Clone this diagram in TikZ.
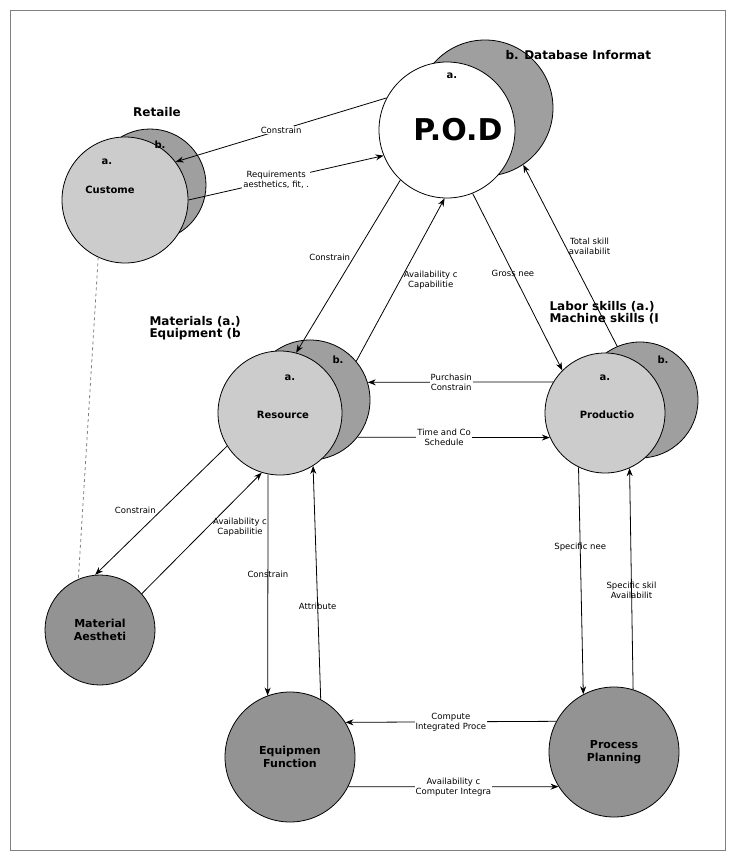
\documentclass[tikz,border=0pt]{standalone}
\usepackage{fontspec}
\setmainfont{DejaVu Sans}
\usetikzlibrary{arrows.meta}
\begin{document}
\begin{tikzpicture}[x=1pt,y=-1pt,
  circ/.style={circle,draw=black,line width=0.8pt,inner sep=0pt},
  front/.style={circ,fill=gray!40},
  back/.style={circ,fill=gray!75},
  darkc/.style={circ,fill=gray!85,font=\bfseries\fontsize{11}{13}\selectfont,align=center},
  arr/.style={-{Stealth[length=8pt,width=6pt]},line width=0.8pt},
  lab/.style={font=\fontsize{8.5}{10}\selectfont,align=center,fill=white,inner sep=1pt},
  head/.style={font=\bfseries\fontsize{12}{14}\selectfont,align=left},
  sm/.style={font=\bfseries\fontsize{10}{12}\selectfont}]
\useasboundingbox (0,0) rectangle (732,860);
\draw[gray,line width=0.8pt] (10,10) rectangle (725,850);
% POD
\node[back,minimum size=136pt] (podb) at (485,108) {};
\node[circ,fill=white,minimum size=136pt] (pod) at (447,130) {};
\node[font=\bfseries\fontsize{30}{32}\selectfont] (podt) at (458,130) {P.O.D};
\node[sm] (poda) at (452,76) {a.};
\node[head,anchor=west] (dbi) at (502,55) {b. Database Informat};
% Customer
\node[back,minimum size=112pt] (custb) at (150,185) {};
\node[front,minimum size=126pt] (cust) at (125,200) {};
\node[sm] (custa) at (107,162) {a.};
\node[sm] (custbb) at (160,145) {b.};
\node[sm] (custt) at (110,190) {Custome};
\node[head] (ret) at (157,112) {Retaile};
% Resource
\node[back,minimum size=120pt] (resb) at (310,400) {};
\node[front,minimum size=124pt] (res) at (280,413) {};
\node[sm] (resa) at (290,378) {a.};
\node[sm] (resbb) at (338,360) {b.};
\node[sm] (rest) at (283,415) {Resource};
\node[head,anchor=west] (mat) at (146,328) {Materials (a.)\\[-2pt]Equipment (b};
% Production
\node[back,minimum size=116pt] (prodb) at (640,400) {};
\node[front,minimum size=120pt] (prod) at (605,413) {};
\node[sm] (proda) at (605,378) {a.};
\node[sm] (prodbb) at (663,360) {b.};
\node[sm] (prodt) at (607,415) {Productio};
\node[head,anchor=west] (lab) at (546,313) {Labor skills (a.)\\[-2pt]Machine skills (I};
% dark circles
\node[darkc,minimum size=110pt] (ma) at (100,630) {Material\\Aestheti};
\node[darkc,minimum size=130pt] (eq) at (290,757) {Equipmen\\Function};
\node[darkc,minimum size=130pt] (pp) at (614,752) {Process\\Planning};
% connectors
\draw[arr] (pod.152) -- node[lab,pos=0.5] {Constrain} (cust.37);
\draw[arr] (cust.0) -- node[lab,pos=0.45] {Requirements\\aesthetics, fit, .} (pod.202);
\draw[arr] (pod.227) -- node[lab,pos=0.45,left=2pt,fill=none] {Constrain} (res.75);
\draw[arr] (resb.40) -- node[lab,pos=0.5,right=2pt,fill=none] {Availability c\\Capabilitie} (pod.268);
\draw[arr] (pod.292) -- node[lab,pos=0.45,fill=none] {Gross nee} (prod.135);
\draw[arr] (prodb.113) -- node[lab,pos=0.55,right=2pt,fill=none] {Total skill\\availabilit} (podb.304);
\draw[arr] (prod.149) -- node[lab,pos=0.55] {Purchasin\\Constrain} (resb.17);
\draw[arr] (resb.-38) -- node[lab,pos=0.45] {Time and Co\\Schedule} (prod.204);
\draw[arr] (res.212) -- node[lab,pos=0.5,left=4pt,fill=none] {Constrain} (ma.95);
\draw[arr] (ma.41) -- node[lab,pos=0.55,right=4pt,fill=none] {Availability c\\Capabilitie} (res.253);
\draw[dashed,line width=0.8pt,gray] (cust.245) -- (ma.113);
\draw[arr] (res.259) -- node[lab,pos=0.45,fill=none] {Constrain} (eq.110);
\draw[arr] (eq.62) -- node[lab,pos=0.4,fill=none] {Attribute} (res.302);
\draw[arr] (prod.244) -- node[lab,pos=0.35,fill=none] {Specific nee} (pp.118);
\draw[arr] (pp.73) -- node[lab,pos=0.45,fill=none] {Specific skil\\Availabilit} (prod.294);
\draw[arr] (pp.152.5) -- node[lab,pos=0.5] {Compute\\Integrated Proce} (eq.32.6);
\draw[arr] (eq.-27.5) -- node[lab,pos=0.5] {Availability c\\Computer Integra} (pp.212.6);
\end{tikzpicture}
\end{document}
